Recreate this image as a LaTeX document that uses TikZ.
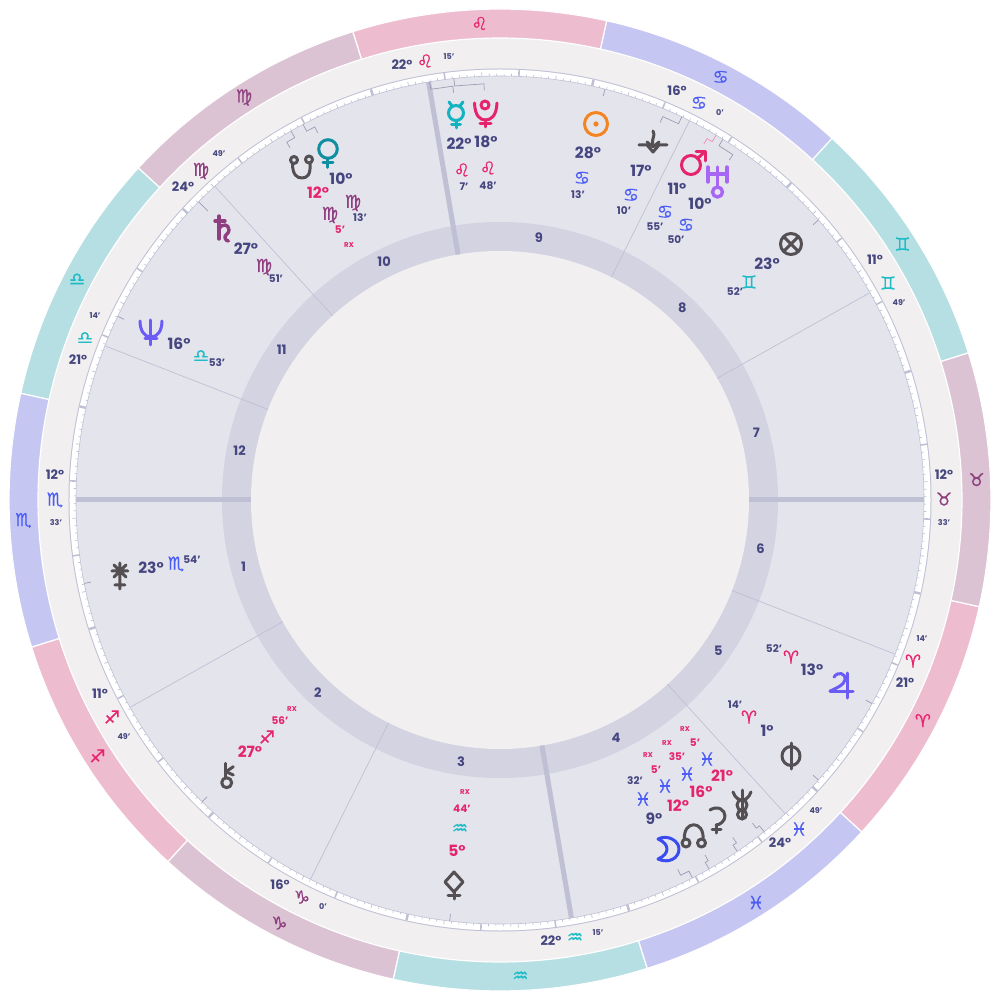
\documentclass[tikz,border=0pt]{standalone}
\usepackage{fontspec}
\setmainfont{Poppins}
\newfontfamily\signfont[FakeBold=0.6]{DejaVu Sans}
\definecolor{inkblue}{HTML}{45467F}
\definecolor{hotpink}{HTML}{E6246E}
\definecolor{mauve}{HTML}{8F3F7F}
\definecolor{teal}{HTML}{1FBCC6}
\definecolor{signblue}{HTML}{4A5CF5}
\definecolor{darkglyph}{HTML}{544F52}
\definecolor{bandpink}{HTML}{EEBCCF}
\definecolor{bandmauve}{HTML}{DCC3D3}
\definecolor{bandteal}{HTML}{B5DFE3}
\definecolor{bandblue}{HTML}{C5C6F2}
\definecolor{wheelbg}{HTML}{F1EFF0}
\definecolor{fieldbg}{HTML}{E4E4ED}
\definecolor{housebg}{HTML}{D3D3E1}
\definecolor{cuspline}{HTML}{C0C0D5}
\definecolor{leadline}{HTML}{9C9CB4}
\definecolor{mercurycol}{HTML}{14B3C0}
\definecolor{venuscol}{HTML}{0F8F9F}
\definecolor{suncol}{HTML}{F5831F}
\definecolor{uranuscol}{HTML}{A866F5}
\definecolor{violet}{HTML}{6A5CF5}
\definecolor{mooncol}{HTML}{3A4CF0}
\tikzset{
  deg/.style={font=\bfseries\fontsize{15.5}{16}\selectfont,text=inkblue,inner sep=0pt},
  degpink/.style={deg,text=hotpink},
  mins/.style={font=\bfseries\fontsize{10.5}{11}\selectfont,text=inkblue,inner sep=0pt},
  minspink/.style={mins,text=hotpink},
  retro/.style={font=\bfseries\fontsize{7}{7}\selectfont,text=hotpink,inner sep=0pt},
  cuspdeg/.style={font=\bfseries\fontsize{13}{13}\selectfont,text=inkblue,inner sep=0pt},
  cuspmins/.style={font=\bfseries\fontsize{8}{8}\selectfont,text=inkblue,inner sep=0pt},
  housenum/.style={font=\bfseries\fontsize{13}{13}\selectfont,text=inkblue,inner sep=0pt},
  sign/.style={font=\signfont\fontsize{18}{18}\selectfont,inner sep=0pt},
  glyph/.style={line width=3pt,line cap=round,line join=round}
}
\newcommand{\leader}[3][leadline]{%
  \draw[#1,line width=0.7pt] ({#2}:424) -- ({#2}:416.5) -- ({#3}:416.5) -- ({#3}:410);
}
\begin{document}
\begin{tikzpicture}[x=1pt,y=1pt]
    \useasboundingbox (-500,-500) rectangle (500,500);
    \fill[white] (-500,-500) rectangle (500,500);
    % Sign band
    \fill[wheelbg] (0,0) circle[radius=491];
    \foreach \s/\c/\g in {0/bandpink/hotpink,30/bandmauve/mauve,60/bandteal/teal,90/bandblue/signblue,
      120/bandpink/hotpink,150/bandmauve/mauve,180/bandteal/teal,210/bandblue/signblue,
      240/bandpink/hotpink,270/bandmauve/mauve,300/bandteal/teal,330/bandblue/signblue} {
        \pgfmathsetmacro{\a}{\s-42.55}
        \pgfmathsetmacro{\b}{\s-12.55}
        \fill[\c,draw=white,line width=1.2pt] (\a:462) -- (\a:491) arc[start angle=\a,delta angle=30,radius=491]
            -- (\b:462) arc[start angle=\b,delta angle=-30,radius=462] -- cycle;
    }
    \foreach \s/\c/\t in {0/hotpink/♈,30/mauve/♉,60/teal/♊,90/signblue/♋,120/hotpink/♌,150/mauve/♍,
      180/teal/♎,210/signblue/♏,240/hotpink/♐,270/mauve/♑,300/teal/♒,330/signblue/♓} {
        \pgfmathsetmacro{\a}{\s-42.55+15}
        \node[sign,text=\c] (band\s) at (\a:477) {\t};
    }
    % Degree ring
    \fill[cuspline] (0,0) circle[radius=431.5];
    \fill[white] (0,0) circle[radius=430.5];
    \foreach \d in {0,...,359} {
        \pgfmathsetmacro{\a}{\d-42.55}
        \pgfmathtruncatemacro{\five}{mod(\d,5)}
        \ifnum\five=0\relax
            \draw[cuspline,line width=0.7pt] (\a:424) -- (\a:428);
        \else
            \draw[cuspline,line width=0.6pt] (\a:424) -- (\a:426.5);
        \fi
    }
    \foreach \d in {0,10,...,350} {
        \pgfmathsetmacro{\a}{\d-42.55}
        \draw[cuspline,line width=1.6pt] (\a:424) -- (\a:430.5);
    }
    \foreach \d in {0,30,...,330} {
        \pgfmathsetmacro{\a}{\d-42.55}
        \draw[cuspline,line width=2.4pt] (\a:424) -- (\a:430.5);
    }
    \fill[fieldbg] (0,0) circle[radius=424];
    \draw[cuspline,line width=0.6pt] (0,0) circle[radius=424];
    % Houses
    \fill[housebg] (0,0) circle[radius=278];
    \fill[wheelbg] (0,0) circle[radius=249];
    \foreach \c in {251.817,286,354.817,21.233,71.817,106,174.817,201.233} {
        \pgfmathsetmacro{\a}{\c-42.55}
        \draw[cuspline,line width=0.7pt] (\a:249) -- (\a:424);
    }
    \foreach \c in {222.55,142.25,42.55,322.25} {
        \pgfmathsetmacro{\a}{\c-42.55}
        \draw[cuspline,line width=5pt] (\a:249) -- (\a:424);
    }
    \foreach \n/\m in {1/237.18,2/269.1,3/304.1,4/338.5,5/8,6/31.9,7/57.2,8/89.1,9/124.1,10/158.5,11/188,12/211.9} {
        \pgfmathsetmacro{\a}{\m-42.55}
        \node[housenum] (house\n) at (\a:265) {\n};
    }
    % Leaders
    \foreach \p in {75.667,41.317,154.333,191.35,225.38,263.18,318.683,331.317} {
        \draw[leadline,line width=0.7pt] (\p:424) -- (\p:417);
    }
    \draw[leadline,line width=0.7pt] (135.3:424) -- (135.3:411);
    \leader{99.567}{96.5}
    \leader{96.25}{92.2}
    \leader{64.617}{67}
    \leader[bandpink!70!hotpink]{59.367}{60.2}
    \leader{58.28}{56}
    \leader{117.667}{116.4}
    \leader{119.533}{120.8}
    \leader{296.98}{295.7}
    \leader{299.533}{300}
    \leader{304.03}{304.6}
    \leader{308.53}{308}
    % everything below is placed in pixels of the chart, y downwards
    \begin{scope}[shift={(-500,500)},y=-1pt]
    % Cusp labels
    \foreach \i/\x/\y/\t in {a/55/475/12°,b/100/694/11°,c/280/885/16°,d/551/941/22°,e/780/843/24°,f/905/683/21°,
      g/944/475/12°,h/875/260/11°,i/677/91/16°,j/402/65/22°,k/183/187/24°,l/78/360/21°} {
        \node[cuspdeg] (cd\i) at (\x,\y) {\t};
    }
    \foreach \i/\x/\y/\t in {a/56/523/33',b/124/737/49',c/323/907/0',d/598/933/15',e/816/811/49',f/922/639/14',
      g/944/523/33',h/899/303/49',i/720/113/0',j/449/57/15',k/219/154/49',l/95/316/14'} {
        \node[cuspmins] (cm\i) at (\x,\y) {\t};
    }
    % Planet degrees
    \foreach \i/\x/\y/\t in {a/459/144/22°,b/486/142/18°,c/588/153/28°,d/641/171/17°,e/677/189/11°,f/700/204/10°,
      g/767/264/23°,h/341/179/10°,i/246/249/27°,j/179/344/16°,k/151/568/23°,l/654/819/9°,m/767/731/1°,n/812/670/13°} {
        \node[deg] (pd\i) at (\x,\y) {\t};
    }
    \foreach \i/\x/\y/\t in {a/318/193/12°,b/250/752/27°,c/457/851/5°,d/678/806/12°,e/701/792/16°,f/722/776/21°} {
        \node[degpink] (rd\i) at (\x,\y) {\t};
    }
    \foreach \i/\x/\y/\t in {a/464/187/7',b/488/186/48',c/578/195/13',d/624/211/10',e/655/227/55',f/676/240/50',
      g/735/292/52',h/360/218/13',i/276/279/51',j/217/363/53',k/192/560/54',l/635/781/32',m/735/705/14',n/774/649/52'} {
        \node[mins] (pm\i) at (\x,\y) {\t};
    }
    \foreach \i/\x/\y/\t in {a/340/230/5',b/280/721/56',c/462/809/44',d/656/770/5',e/677/757/35',f/695/743/5'} {
        \node[minspink] (rm\i) at (\x,\y) {\t};
    }
    \foreach \i/\x/\y in {a/349/245,b/292/709,c/465/792,d/648/755,e/667/743,f/685/729} {
        \node[retro] (rx\i) at (\x,\y) {RX};
    }
    % Sign marks beside the degrees
    \foreach \i/\x/\y/\c/\t in {a/462/170/hotpink/♌,b/488/168/hotpink/♌,c/582/178/signblue/♋,d/631/195/signblue/♋,
      e/665/212/signblue/♋,f/686/225/signblue/♋,g/749/282/teal/♊,h/353/203/mauve/♍,j/330/215/mauve/♍,
      k/264/267/mauve/♍,l/201/356/teal/♎,m/176/564/signblue/♏,n/267/737/hotpink/♐,o/460/829/teal/♒,
      p/643/799/signblue/♓,q/665/786/signblue/♓,r/687/774/signblue/♓,s/707/759/signblue/♓,
      t/749/717/hotpink/♈,u/791/657/hotpink/♈,
      v/55/500/signblue/♏,w/112/717/hotpink/♐,x/302/897/mauve/♑,y/575/938/teal/♒,z/799/829/signblue/♓,
      aa/913/661/hotpink/♈,ab/944/499/mauve/♉,ac/888/283/teal/♊,ad/699/103/signblue/♋,
      ae/425/61/hotpink/♌,af/201/171/mauve/♍,ag/85/338/teal/♎} {
        \node[sign,text=\c] (s\i) at (\x,\y) {\t};
    }
    % Planet glyphs
    \begin{scope}[glyph]
    % Mercury
    \begin{scope}[shift={(456,115)},draw=mercurycol]
      \draw (0,-2) circle[radius=7.5];
      \draw (-7,-13) -- (-4,-9) (7,-13) -- (4,-9);
      \draw (0,5.5) -- (0,13) (-4.5,10) -- (4.5,10);
    \end{scope}
    % Pluto
    \begin{scope}[shift={(486,113)},draw=hotpink]
      \draw (-1,-8) circle[radius=4];
      \draw (-11.5,-10) .. controls (-11,3) and (-6,7) .. (-0.5,7) .. controls (5,7) and (10.5,3) .. (11,-10);
      \draw (-0.5,7) -- (-0.5,14) (-6,11) -- (5,11);
    \end{scope}
    % Sun
    \begin{scope}[shift={(596,124)},draw=suncol]
      \draw (0,0) circle[radius=11.5];
      \fill[suncol] (0,0) circle[radius=2.6];
    \end{scope}
    % Fortune
    \begin{scope}[shift={(791,244)},draw=darkglyph]
      \draw (0,0) circle[radius=10.5];
      \draw (-7,-7) -- (7,7) (-7,7) -- (7,-7);
    \end{scope}
    % Mars
    \begin{scope}[shift={(693,165)},draw=hotpink]
      \draw (-2,0) circle[radius=9.5];
      \draw (4.5,-6.5) -- (12,-13.5);
      \draw (3,-13.5) -- (12,-13.5) -- (12,-4);
    \end{scope}
    % Uranus
    \begin{scope}[shift={(717,178)},draw=uranuscol,line width=3.4pt]
      \draw (-9,-11) -- (-9,4) (10,-11) -- (10,4) (-9,-4) -- (10,-4);
      \draw (0.5,-11) -- (0.5,9);
      \draw (0.5,14) circle[radius=5];
    \end{scope}
    % Venus
    \begin{scope}[shift={(328,155)},draw=venuscol]
      \draw (0,-6) circle[radius=9.3];
      \draw (0,3.5) -- (0,12.5) (-5,7.5) -- (5,7.5);
    \end{scope}
    % South node
    \begin{scope}[shift={(302,168)},draw=darkglyph]
      \draw (-8,-8) circle[radius=3.5] (7,-8.5) circle[radius=3.5];
      \draw (-9.5,-4.5) .. controls (-9.5,7) and (-5,10) .. (0,10) .. controls (5,10) and (9,7) .. (8,-5);
    \end{scope}
    % Saturn
    \begin{scope}[shift={(222,230)},draw=mauve,line width=3.4pt]
      \draw (-3,-14) -- (-3,9) (-7,-9) -- (3,-9);
      \draw (-3,-1) .. controls (0,-7) and (7,-6) .. (7,0) .. controls (7,4) and (2,5) .. (3,8) .. controls (3.5,10) and (5,11) .. (6.5,11);
    \end{scope}
    % Neptune
    \begin{scope}[shift={(151,332)},draw=violet]
      \draw (-11,-11) .. controls (-11,-2) and (-7,5) .. (0,5) .. controls (7,5) and (11,-2) .. (11,-11);
      \draw (0,-12) -- (0,13) (-6,7) -- (6,7);
    \end{scope}
    % Star with cross
    \begin{scope}[shift={(120,571)},draw=darkglyph]
      \draw (0,-8) -- (0,18) (-6,-6) -- (6,6) (6,-6) -- (-6,6) (-8,0) -- (8,0) (-5,14) -- (5,14);
    \end{scope}
    % Chiron
    \begin{scope}[shift={(226,775)},draw=darkglyph]
      \draw (0.7,7.7) circle[radius=5];
      \draw (0,-11.7) -- (0,2.3);
      \draw (7.3,-8.3) -- (0,-3.3) -- (7.3,0);
    \end{scope}
    % Lilith
    \begin{scope}[shift={(454,882)},draw=darkglyph]
      \draw (0,-10) -- (9,0) -- (0,10) -- (-9,0) -- cycle;
      \draw (0,10) -- (0,17) (-6,13.5) -- (6,13.5);
    \end{scope}
    % Moon
    \begin{scope}[shift={(668,849)},draw=mooncol]
      \draw (-10,-10) .. controls (0,-15) and (11,-8) .. (11,0) .. controls (11,9) and (1,15) .. (-10,10) .. controls (2,5) and (2,-5) .. (-10,-10) -- cycle;
    \end{scope}
    % North node
    \begin{scope}[shift={(694,835)},draw=darkglyph]
      \draw (-8,8) circle[radius=4] (7.5,8) circle[radius=4];
      \draw (-9.5,4) .. controls (-11,-15) and (10.5,-15) .. (9,4);
    \end{scope}
    % Ceres
    \begin{scope}[shift={(718,820)},draw=darkglyph]
      \draw (-8,-10) .. controls (0,-15) and (7,-10) .. (7,-4) .. controls (7,1) and (2,5) .. (-2,5);
      \draw (-2,5) -- (-2,13) (-6,9) -- (3,9);
    \end{scope}
    % Horned rings
    \begin{scope}[shift={(742,805)},draw=darkglyph]
      \draw (-9,-13) .. controls (-7,-7) and (-3,-5) .. (0,-5) .. controls (3,-5) and (7,-7) .. (9,-13);
      \draw (0,-15) -- (0,14);
      \draw (0,0) ellipse[x radius=5,y radius=5.5];
      \draw (0,9.5) circle[radius=4.5];
    \end{scope}
    % Phi
    \begin{scope}[shift={(791,756)},draw=darkglyph]
      \draw (0,0) ellipse[x radius=9,y radius=9.5];
      \draw (0,-13) -- (0,13);
    \end{scope}
    % Jupiter
    \begin{scope}[shift={(841,686)},draw=violet]
      \draw (6,-13) -- (6,12) (-11,5) -- (12,5);
      \draw (-7,-9) .. controls (-3,-15) and (5,-13) .. (4,-6) .. controls (3,-1) and (-6,3) .. (-11,5);
    \end{scope}
    % Vertex
    \begin{scope}[shift={(653,145)},draw=darkglyph]
      \draw (-14,0) -- (-6,0) -- (0,7) -- (6,0) -- (14,0);
      \draw (-6,-3) -- (0,2) -- (6,-3);
      \draw (0,-14) .. controls (3,-9) and (-2,-7) .. (0,0);
    \end{scope}
    \end{scope}
    \end{scope}
\end{tikzpicture}
\end{document}
